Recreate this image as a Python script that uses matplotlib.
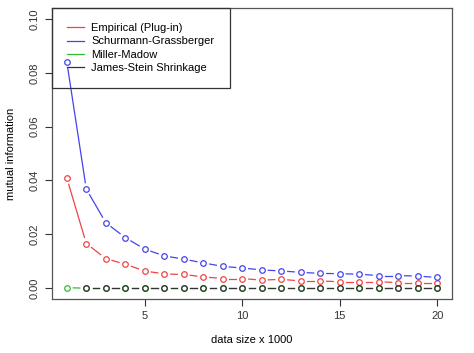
import numpy as np
import matplotlib.pyplot as plt

plt.rcParams['font.family'] = ['Liberation Sans', 'DejaVu Sans']

# data size (x 1000)
sizes = np.arange(1, 21)

mi_empirical = [0.0409, 0.0166, 0.0110, 0.0089, 0.0064, 0.0053, 0.0051, 0.0042, 0.0036, 0.0036,
                0.0030, 0.0033, 0.0027, 0.0027, 0.0024, 0.0024, 0.0024, 0.0021, 0.0021, 0.0021]
mi_schurmann = [0.0840, 0.0368, 0.0243, 0.0188, 0.0145, 0.0120, 0.0108, 0.0094, 0.0081, 0.0075,
                0.0068, 0.0064, 0.0059, 0.0055, 0.0054, 0.0052, 0.0047, 0.0047, 0.0045, 0.0040]
mi_miller = [0.0002, 0.0, 0.0, 0.0, 0.0, 0.0, 0.0, 0.0, 0.0, 0.0,
             0.0, 0.0, 0.0, 0.0, 0.0, 0.0, 0.0, 0.0, 0.0, 0.0]
mi_shrink = [np.nan, 0.0, 0.0, 0.0, 0.0, 0.0, 0.0, 0.0, 0.0, 0.0,
             0.0, 0.0, 0.0, 0.0, 0.0, 0.0, 0.0, 0.0, 0.0, 0.0]

series = [("Empirical (Plug-in)", mi_empirical, "#ee4444"),
          ("Schurmann-Grassberger", mi_schurmann, "#4444ee"),
          ("Miller-Madow", mi_miller, "#33bb33"),
          ("James-Stein Shrinkage", mi_shrink, "#333333")]

fig = plt.figure(figsize=(4.74, 3.53), dpi=100)
ax = fig.add_axes([0.1097, 0.153, 0.8439, 0.824])
ax.set_xlim(0.24, 20.76)
ax.set_ylim(-0.004, 0.104)

# R-style type="b": segments stop short of each point
gap = 6.5  # pixels
for label, vals, col in series:
    pts = ax.transData.transform(np.column_stack([sizes, vals]))
    for i in range(len(pts) - 1):
        p0, p1 = pts[i], pts[i + 1]
        if np.isnan(p0).any() or np.isnan(p1).any():
            continue
        d = p1 - p0
        n = np.hypot(*d)
        if n <= 2 * gap:
            continue
        u = d / n
        seg = ax.transData.inverted().transform([p0 + u * gap, p1 - u * gap])
        ax.plot(seg[:, 0], seg[:, 1], color=col, lw=0.9)
    ax.plot([], [], color=col, lw=0.9, label=label)
    ax.plot(sizes, vals, ls='none', marker='o', ms=4, mfc='none', mec=col, mew=0.9)

ax.set_xticks([5, 10, 15, 20])
yt = np.arange(0, 0.101, 0.02)
ax.set_yticks(yt)
ax.set_yticklabels([f"{v:.2f}" for v in yt], rotation=90, va='center')
ax.tick_params(direction='out', length=5, width=0.8, labelsize=8, colors='#333333', pad=4)
for s in ax.spines.values():
    s.set_color('#555555')
    s.set_linewidth(0.9)

ax.set_xlabel("data size x 1000", fontsize=8, labelpad=10)
ax.set_ylabel("mutual information", fontsize=8, labelpad=10)

leg = ax.legend(loc='upper left', borderaxespad=0, fontsize=8, fancybox=False,
                facecolor='none', edgecolor='#333333', handlelength=1.5,
                labelspacing=0.3, borderpad=1.35, handletextpad=0.7)
leg.get_frame().set_linewidth(0.9)
leg.get_frame().set_alpha(None)

fig.savefig("out.png", dpi=100)
